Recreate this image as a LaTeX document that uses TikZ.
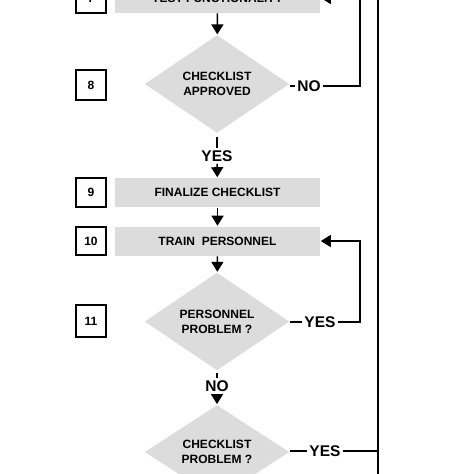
\documentclass[tikz,border=0pt]{standalone}
\usepackage{fontspec}
\setmainfont{Liberation Sans}
\usetikzlibrary{shapes.geometric,arrows.meta}
\definecolor{stepgray}{HTML}{DCDCDC}
\begin{document}
\begin{tikzpicture}[x=1pt,y=-1pt,line width=1.6pt,
  task/.style={fill=stepgray,minimum width=205pt,minimum height=29pt,inner sep=0pt,font=\fontsize{12}{14}\selectfont\bfseries},
  test/.style={diamond,fill=stepgray,minimum width=145pt,inner sep=0pt,align=center,font=\fontsize{12}{15}\selectfont\bfseries},
  num/.style={draw,line width=1.3pt,minimum size=30pt,inner sep=0pt,font=\fontsize{12}{14}\selectfont\bfseries},
  lbl/.style={inner sep=1.5pt,font=\fontsize{15.5}{17}\selectfont\bfseries},
  arr/.style={-{Triangle[width=12pt,length=10pt]}}]
\useasboundingbox (0,0) rectangle (474,474);
\clip (0,0) rectangle (474,474);

% Krok 7
\node[num] (n7) at (91,-2) {7};
\node[task] (r7) at (217.5,-2) {TEST FUNCTIONALITY};

% Krok 8
\node[num] (n8) at (91,85) {8};
\node[test,minimum height=98pt] (d8) at (217,84) {CHECKLIST\\APPROVED};
\node[lbl] (no8) at (309,86) {NO};
\node[lbl] (yes8) at (217,156) {YES};

% Krok 9 a 10
\node[num,minimum height=29pt] (n9) at (91,192.5) {9};
\node[task] (r9) at (217.5,192.5) {FINALIZE CHECKLIST};
\node[num,minimum height=28pt] (n10) at (91,241) {10};
\node[task] (r10) at (217.5,241) {TRAIN\ \ PERSONNEL};

% Krok 11
\node[num,minimum height=32pt] (n11) at (91,321) {11};
\node[test,minimum height=83pt] (d11) at (217,321.5) {PERSONNEL\\PROBLEM ?};
\node[lbl] (yes11) at (320,322) {YES};
\node[lbl] (no11) at (217,386) {NO};

% Krok 12
\node[test,minimum height=88pt] (d12) at (217,452) {CHECKLIST\\PROBLEM ?};
\node[lbl] (yes12) at (325,451) {YES};

\coordinate (c8) at (360,86);
\coordinate (c11) at (360,322);
\coordinate (top) at (378,-10);
\coordinate (bottom) at (378,484);

% Spojnice
\draw[arr] (r7) -- (d8);
\draw[shorten <=3pt] (d8) -- (yes8);
\draw[arr] (yes8) -- (r9);
\draw[arr] (r9) -- (r10);
\draw[arr] (r10) -- (d11);
\draw (no8.west -| d8.east) -- (no8.west);
\draw[arr] (no8.east) -- (c8) |- (r7.east);
\draw (yes11.west -| d11.east) -- (yes11.west);
\draw[arr] (yes11.east) -- (c11) |- (r10.east);
\draw[shorten <=2pt] (d11) -- (no11);
\draw[arr] (no11) -- (d12);
\draw (yes12.west -| d12.east) -- (yes12.west);
\draw (top) -- (bottom);
\draw (yes12.east) -- (yes12.east -| top);
\end{tikzpicture}
\end{document}
